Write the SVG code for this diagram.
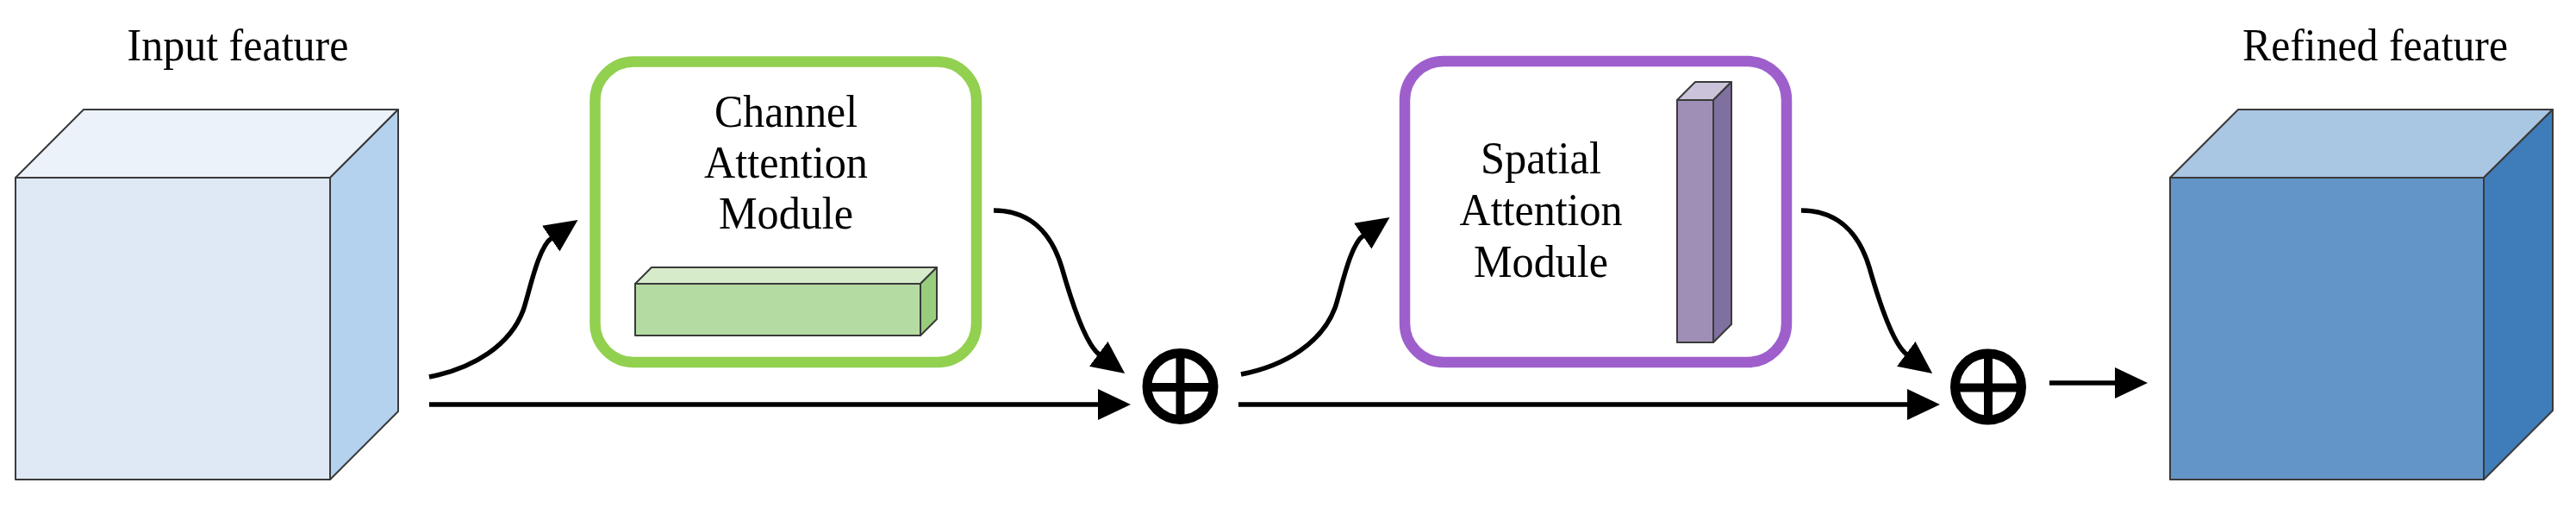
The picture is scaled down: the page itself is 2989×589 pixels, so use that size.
<svg xmlns="http://www.w3.org/2000/svg" width="2989" height="589" viewBox="0 0 2989 589">
<style>
.lbl{font-family:"Liberation Serif","Times New Roman",serif;font-size:53px;fill:#000;text-anchor:middle}
.edge{stroke:#3a3a3a;stroke-width:2;stroke-linejoin:round}
.conn{fill:none;stroke:#000;stroke-width:5.5}
.mod{fill:#fff;stroke-width:12.5}
.plus{fill:none;stroke:#000}
</style>
<defs>
<marker id="ah" markerUnits="userSpaceOnUse" markerWidth="40" markerHeight="40" refX="1" refY="18" orient="auto">
<path d="M0,0 L38,18 L0,36 Z" fill="#000"/>
</marker>
</defs>
<rect width="2989" height="589" fill="#fff"/>

<g id="input-feature">
<polygon class="edge" points="18,206 97,127 462,127 383,206" fill="#EBF2FA"/>
<polygon class="edge" points="383,206 462,127 462,477 383,556" fill="#B4D2EE"/>
<rect class="edge" x="18" y="206" width="365" height="350" fill="#DEE9F5"/>
<text class="lbl" x="276" y="70" textLength="257" lengthAdjust="spacingAndGlyphs">Input feature</text>
</g>

<g id="channel-attention">
<rect class="mod" x="690.5" y="71.5" width="442.5" height="348.5" rx="45" stroke="#92D050"/>
<text class="lbl" x="912" y="147" textLength="166" lengthAdjust="spacingAndGlyphs">Channel</text>
<text class="lbl" x="912" y="206" textLength="190" lengthAdjust="spacingAndGlyphs">Attention</text>
<text class="lbl" x="912" y="265" textLength="156" lengthAdjust="spacingAndGlyphs">Module</text>
<polygon class="edge" points="737,329 756,310 1087,310 1068,329" fill="#D5EBCA" stroke="#4d6b3c"/>
<polygon class="edge" points="1068,329 1087,310 1087,370 1068,389" fill="#97CD7D" stroke="#4d6b3c"/>
<rect class="edge" x="737" y="329" width="331" height="60" fill="#B4DCA2" stroke="#4d6b3c"/>
</g>

<g id="plus-1">
<circle class="plus" cx="1369.5" cy="448" r="38.5" stroke-width="11"/>
<line class="plus" x1="1332" y1="449" x2="1407" y2="449" stroke-width="10"/>
<line class="plus" x1="1369.5" y1="411" x2="1369.5" y2="486" stroke-width="10"/>
</g>

<g id="spatial-attention">
<rect class="mod" x="1630" y="71" width="443" height="349" rx="45" stroke="#9E5FCC"/>
<text class="lbl" x="1788" y="201" textLength="140" lengthAdjust="spacingAndGlyphs">Spatial</text>
<text class="lbl" x="1788" y="261" textLength="189" lengthAdjust="spacingAndGlyphs">Attention</text>
<text class="lbl" x="1788" y="321" textLength="156" lengthAdjust="spacingAndGlyphs">Module</text>
<polygon class="edge" points="1946,116 1967,95 2009,95 1988,116" fill="#CBC3DA" stroke="#3b3050"/>
<polygon class="edge" points="1988,116 2009,95 2009,376 1988,397" fill="#8070A0" stroke="#3b3050"/>
<rect class="edge" x="1946" y="116" width="42" height="281" fill="#9F8FB6" stroke="#3b3050"/>
</g>

<g id="plus-2">
<circle class="plus" cx="2307" cy="448.5" r="38.5" stroke-width="11"/>
<line class="plus" x1="2269.5" y1="449.5" x2="2344.5" y2="449.5" stroke-width="10"/>
<line class="plus" x1="2307" y1="411.5" x2="2307" y2="486.5" stroke-width="10"/>
</g>

<g id="refined-feature">
<polygon class="edge" points="2518,206 2597,127 2962,127 2882,206" fill="#A9C6E2"/>
<polygon class="edge" points="2882,206 2962,127 2962,476 2882,556" fill="#3F7CBA"/>
<rect class="edge" x="2518" y="206" width="364" height="350" fill="#6395C9"/>
<text class="lbl" x="2756" y="70" textLength="308" lengthAdjust="spacingAndGlyphs">Refined feature</text>
</g>

<g id="connectors">
<path class="conn" d="M498,437 C550,427 592,400 607,360 C614,340 624,287 640,276" marker-end="url(#ah)"/>
<path class="conn" d="M498,469 H1275" marker-end="url(#ah)"/>
<path class="conn" d="M1153,244 C1195,244 1220,270 1232,310 C1240,338 1258,398 1275.5,411" marker-end="url(#ah)"/>
<path class="conn" d="M1440,434 C1492,424 1534,397 1549,357 C1556,337 1566,284 1582,273" marker-end="url(#ah)"/>
<path class="conn" d="M1437,469 H2214" marker-end="url(#ah)"/>
<path class="conn" d="M2090,244 C2132,244 2157,270 2169,310 C2177,338 2195,398 2212.5,411" marker-end="url(#ah)"/>
<path class="conn" d="M2378,444 H2455" marker-end="url(#ah)"/>
</g>
</svg>
